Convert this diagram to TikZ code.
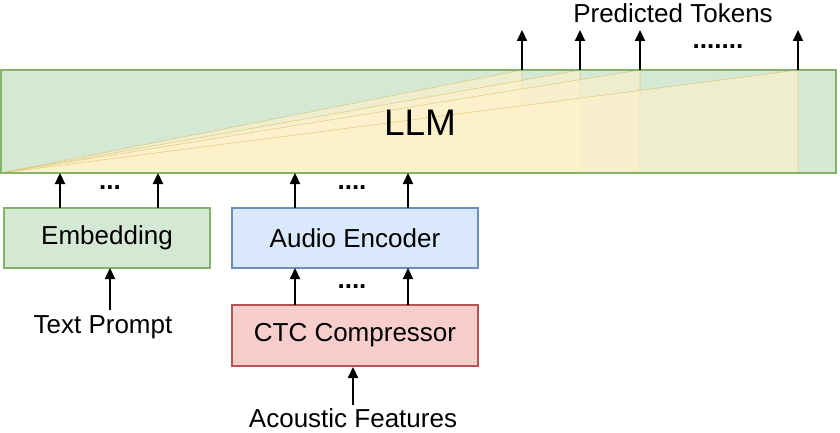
\documentclass[tikz,border=0pt]{standalone}
\usepackage{fontspec}
\setmainfont{Liberation Sans}
\usetikzlibrary{arrows.meta}
\definecolor{gf}{HTML}{D5E8D4}\definecolor{gs}{HTML}{82B366}
\definecolor{bf}{HTML}{DAE8FC}\definecolor{bs}{HTML}{6C8EBF}
\definecolor{rf}{HTML}{F8CECC}\definecolor{rs}{HTML}{B85450}
\definecolor{yf}{HTML}{FFF2CC}\definecolor{ys}{HTML}{D6B656}
\begin{document}
\begin{tikzpicture}[x=1pt,y=-1pt,
  box/.style={draw,line width=2pt,minimum height=60pt,inner sep=0pt,font=\fontsize{26}{30}\selectfont},
  lbl/.style={font=\fontsize{26}{30}\selectfont,inner sep=0pt},
  arr/.style={-{Triangle[length=11pt,width=10pt]},line width=2.2pt},
  tri/.style={fill=yf,fill opacity=0.6,draw=ys,draw opacity=0.6,line width=0.6pt}]
\useasboundingbox (0,0) rectangle (840,433);
\node[box,fill=gf,draw=gs,minimum width=835pt,minimum height=103pt] (llm) at (418.5,121.5) {};
\foreach \x in {522,580,640,798}{\fill[tri] (1,173) -- (\x,70) -- (\x,173) -- cycle;}
\draw[gs,line width=2pt] (1,70) rectangle (836,173);
\node[lbl,font=\fontsize{37}{40}\selectfont] (llmt) at (420,123) {LLM};
\node[box,fill=gf,draw=gs,minimum width=206pt] (emb) at (107,238) {Embedding};
\node[box,fill=bf,draw=bs,minimum width=246pt] (aud) at (355,238) {Audio Encoder};
\node[box,fill=rf,draw=rs,minimum width=246pt,minimum height=61pt] (ctc) at (355,335.5) {CTC Compressor};
\node[lbl] (tp) at (103,327) {Text Prompt};
\node[lbl] (af) at (353,418) {Acoustic Features};
\node[lbl] (pt) at (673,13) {Predicted Tokens};
\foreach \x/\n in {522/a,580/b,640/c,798/d}{\coordinate (o\n) at (\x,30); \draw[arr] (\x,70) -- (o\n);}
\node[lbl] (d1) at (718,47) {\textbf{.......}};
\node[lbl] (d2) at (110,188) {\textbf{...}};
\node[lbl] (d3) at (352,188) {\textbf{....}};
\node[lbl] (d4) at (352,287) {\textbf{....}};
\foreach \x in {60,158}{\draw[arr] (\x,208) -- (\x,173);}
\foreach \x in {295,408}{\draw[arr] (\x,208) -- (\x,173); \draw[arr] (\x,305) -- (\x,268);}
\coordinate (tpa) at (110,310);
\draw[arr] (tpa) -- (110,268);
\coordinate (afa) at (353,405);
\draw[arr] (afa) -- (ctc.south -| afa);
\end{tikzpicture}
\end{document}
